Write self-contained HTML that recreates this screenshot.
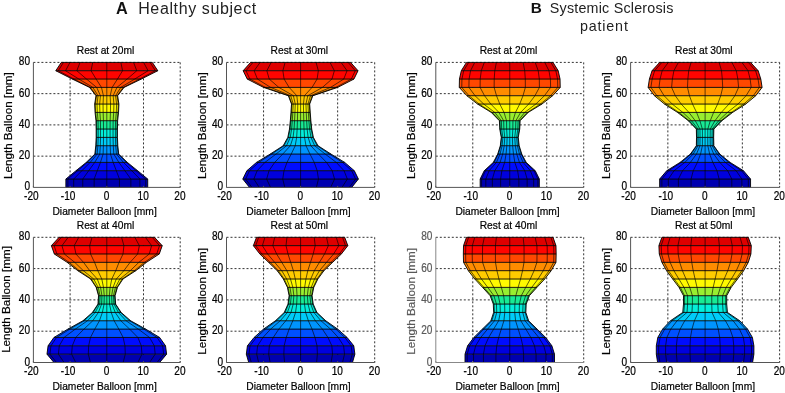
<!DOCTYPE html>
<html><head><meta charset="utf-8"><title>Balloon</title>
<style>html,body{margin:0;padding:0;background:#fff}body{width:785px;height:393px;overflow:hidden}</style></head>
<body>
<svg width="785" height="393" viewBox="0 0 785 393" style="display:block">
<rect width="785" height="393" fill="#fff"/>
<g font-family='"Liberation Sans", sans-serif'>
<line x1="70.10" y1="62.40" x2="70.10" y2="187.40" stroke="#333" stroke-width="1" stroke-dasharray="2 2"/>
<line x1="106.80" y1="62.40" x2="106.80" y2="187.40" stroke="#333" stroke-width="1" stroke-dasharray="2 2"/>
<line x1="143.50" y1="62.40" x2="143.50" y2="187.40" stroke="#333" stroke-width="1" stroke-dasharray="2 2"/>
<line x1="180.20" y1="62.40" x2="180.20" y2="187.40" stroke="#333" stroke-width="1" stroke-dasharray="2 2"/>
<line x1="33.40" y1="62.40" x2="180.20" y2="62.40" stroke="#333" stroke-width="1" stroke-dasharray="2 2"/>
<line x1="33.40" y1="93.65" x2="180.20" y2="93.65" stroke="#333" stroke-width="1" stroke-dasharray="2 2"/>
<line x1="33.40" y1="124.90" x2="180.20" y2="124.90" stroke="#333" stroke-width="1" stroke-dasharray="2 2"/>
<line x1="33.40" y1="156.15" x2="180.20" y2="156.15" stroke="#333" stroke-width="1" stroke-dasharray="2 2"/>
<polygon points="65.88,187.40 147.72,187.40 147.72,179.07 65.88,179.07" fill="#0000B0"/>
<polygon points="65.88,179.07 147.72,179.07 137.63,170.73 75.97,170.73" fill="#0000DE"/>
<polygon points="75.97,170.73 137.63,170.73 127.35,162.40 86.25,162.40" fill="#000CFF"/>
<polygon points="86.25,162.40 127.35,162.40 118.73,154.07 94.87,154.07" fill="#0050FF"/>
<polygon points="94.87,154.07 118.73,154.07 117.81,145.73 95.79,145.73" fill="#0094FF"/>
<polygon points="95.79,145.73 117.81,145.73 117.44,137.40 96.16,137.40" fill="#00CCF8"/>
<polygon points="96.16,137.40 117.44,137.40 117.44,129.07 96.16,129.07" fill="#04EEDA"/>
<polygon points="96.16,129.07 117.44,129.07 117.63,120.73 95.97,120.73" fill="#18EA94"/>
<polygon points="95.97,120.73 117.63,120.73 118.54,112.40 95.06,112.40" fill="#98EE30"/>
<polygon points="95.06,112.40 118.54,112.40 118.91,104.07 94.69,104.07" fill="#FFFA00"/>
<polygon points="94.69,104.07 118.91,104.07 117.63,95.73 95.97,95.73" fill="#FFCC00"/>
<polygon points="95.97,95.73 117.63,95.73 124.05,87.40 89.55,87.40" fill="#FF8C00"/>
<polygon points="89.55,87.40 124.05,87.40 141.30,79.07 72.30,79.07" fill="#FF4800"/>
<polygon points="72.30,79.07 141.30,79.07 157.81,70.73 55.79,70.73" fill="#FF0400"/>
<polygon points="55.79,70.73 157.81,70.73 152.31,62.40 61.29,62.40" fill="#DE0000"/>
<path d="M145.72 187.40L145.72 179.07L136.12 170.73L126.35 162.40L118.14 154.07L117.27 145.73L116.92 137.40L116.92 129.07L117.10 120.73L117.97 112.40L118.32 104.07L117.10 95.73L123.20 87.40L139.61 79.07L155.32 70.73L150.08 62.40M139.91 187.40L139.91 179.07L131.74 170.73L123.43 162.40L116.45 154.07L115.71 145.73L115.41 137.40L115.41 129.07L115.56 120.73L116.30 112.40L116.60 104.07L115.56 95.73L120.75 87.40L134.71 79.07L148.07 70.73L143.62 62.40M130.85 187.40L130.85 179.07L124.92 170.73L118.88 162.40L113.81 154.07L113.27 145.73L113.06 137.40L113.06 129.07L113.16 120.73L113.70 112.40L113.92 104.07L113.16 95.73L116.94 87.40L127.08 79.07L136.78 70.73L133.55 62.40M119.45 187.40L119.45 179.07L116.33 170.73L113.15 162.40L110.49 154.07L110.20 145.73L110.09 137.40L110.09 129.07L110.15 120.73L110.43 112.40L110.54 104.07L110.15 95.73L112.13 87.40L117.46 79.07L122.56 70.73L120.86 62.40M106.80 187.40L106.80 179.07L106.80 170.73L106.80 162.40L106.80 154.07L106.80 145.73L106.80 137.40L106.80 129.07L106.80 120.73L106.80 112.40L106.80 104.07L106.80 95.73L106.80 87.40L106.80 79.07L106.80 70.73L106.80 62.40M94.15 187.40L94.15 179.07L97.27 170.73L100.45 162.40L103.11 154.07L103.40 145.73L103.51 137.40L103.51 129.07L103.45 120.73L103.17 112.40L103.06 104.07L103.45 95.73L101.47 87.40L96.14 79.07L91.04 70.73L92.74 62.40M82.75 187.40L82.75 179.07L88.68 170.73L94.72 162.40L99.79 154.07L100.33 145.73L100.54 137.40L100.54 129.07L100.44 120.73L99.90 112.40L99.68 104.07L100.44 95.73L96.66 87.40L86.52 79.07L76.82 70.73L80.05 62.40M73.69 187.40L73.69 179.07L81.86 170.73L90.17 162.40L97.15 154.07L97.89 145.73L98.19 137.40L98.19 129.07L98.04 120.73L97.30 112.40L97.00 104.07L98.04 95.73L92.85 87.40L78.89 79.07L65.53 70.73L69.98 62.40M67.88 187.40L67.88 179.07L77.48 170.73L87.25 162.40L95.46 154.07L96.33 145.73L96.68 137.40L96.68 129.07L96.50 120.73L95.63 112.40L95.28 104.07L96.50 95.73L90.40 87.40L73.99 79.07L58.28 70.73L63.52 62.40" fill="none" stroke="#000" stroke-width="0.62" stroke-linejoin="round"/>
<path d="M65.88 187.40H147.72M65.88 179.07H147.72M75.97 170.73H137.63M86.25 162.40H127.35M94.87 154.07H118.73M95.79 145.73H117.81M96.16 137.40H117.44M96.16 129.07H117.44M95.97 120.73H117.63M95.06 112.40H118.54M94.69 104.07H118.91M95.97 95.73H117.63M89.55 87.40H124.05M72.30 79.07H141.30M55.79 70.73H157.81M61.29 62.40H152.31M147.72 187.40L147.72 179.07L137.63 170.73L127.35 162.40L118.73 154.07L117.81 145.73L117.44 137.40L117.44 129.07L117.63 120.73L118.54 112.40L118.91 104.07L117.63 95.73L124.05 87.40L141.30 79.07L157.81 70.73L152.31 62.40M65.88 187.40L65.88 179.07L75.97 170.73L86.25 162.40L94.87 154.07L95.79 145.73L96.16 137.40L96.16 129.07L95.97 120.73L95.06 112.40L94.69 104.07L95.97 95.73L89.55 87.40L72.30 79.07L55.79 70.73L61.29 62.40" fill="none" stroke="#000" stroke-width="0.9" stroke-linejoin="round"/>
<path d="M33.40 62.40V187.40H180.20" fill="none" stroke="#555" stroke-width="1"/>
<line x1="33.40" y1="187.40" x2="33.40" y2="185.90" stroke="#555" stroke-width="1"/>
<line x1="70.10" y1="187.40" x2="70.10" y2="185.90" stroke="#555" stroke-width="1"/>
<line x1="106.80" y1="187.40" x2="106.80" y2="185.90" stroke="#555" stroke-width="1"/>
<line x1="143.50" y1="187.40" x2="143.50" y2="185.90" stroke="#555" stroke-width="1"/>
<line x1="180.20" y1="187.40" x2="180.20" y2="185.90" stroke="#555" stroke-width="1"/>
<text transform="translate(31.40 200.10) scale(0.84 1)" text-anchor="middle" font-size="12.0" fill="#000" stroke="#000" stroke-width="0.22">-20</text>
<text transform="translate(68.10 200.10) scale(0.84 1)" text-anchor="middle" font-size="12.0" fill="#000" stroke="#000" stroke-width="0.22">-10</text>
<text transform="translate(106.50 200.10) scale(0.84 1)" text-anchor="middle" font-size="12.0" fill="#000" stroke="#000" stroke-width="0.22">0</text>
<text transform="translate(143.20 200.10) scale(0.84 1)" text-anchor="middle" font-size="12.0" fill="#000" stroke="#000" stroke-width="0.22">10</text>
<text transform="translate(179.90 200.10) scale(0.84 1)" text-anchor="middle" font-size="12.0" fill="#000" stroke="#000" stroke-width="0.22">20</text>
<text transform="translate(30.00 190.40) scale(0.84 1)" text-anchor="end" font-size="12.0" fill="#000" stroke="#000" stroke-width="0.22">0</text>
<text transform="translate(30.00 159.15) scale(0.84 1)" text-anchor="end" font-size="12.0" fill="#000" stroke="#000" stroke-width="0.22">20</text>
<text transform="translate(30.00 127.90) scale(0.84 1)" text-anchor="end" font-size="12.0" fill="#000" stroke="#000" stroke-width="0.22">40</text>
<text transform="translate(30.00 96.65) scale(0.84 1)" text-anchor="end" font-size="12.0" fill="#000" stroke="#000" stroke-width="0.22">60</text>
<text transform="translate(30.00 65.40) scale(0.84 1)" text-anchor="end" font-size="12.0" fill="#000" stroke="#000" stroke-width="0.22">80</text>
<text transform="translate(104.60 214.70) scale(0.87 1)" text-anchor="middle" font-size="11.8" fill="#000" stroke="#000" stroke-width="0.22">Diameter Balloon [mm]</text>
<text transform="translate(105.50 53.70) scale(0.87 1)" text-anchor="middle" font-size="11.8" fill="#000" stroke="#000" stroke-width="0.22">Rest at 20ml</text>
<text transform="translate(11.50 125.60) rotate(-90) scale(1 0.95)" text-anchor="middle" font-size="11.65" fill="#000" stroke="#000" stroke-width="0.2">Length Balloon [mm]</text>
</g>
<g font-family='"Liberation Sans", sans-serif'>
<line x1="263.55" y1="62.40" x2="263.55" y2="187.40" stroke="#333" stroke-width="1" stroke-dasharray="2 2"/>
<line x1="300.60" y1="62.40" x2="300.60" y2="187.40" stroke="#333" stroke-width="1" stroke-dasharray="2 2"/>
<line x1="337.65" y1="62.40" x2="337.65" y2="187.40" stroke="#333" stroke-width="1" stroke-dasharray="2 2"/>
<line x1="374.70" y1="62.40" x2="374.70" y2="187.40" stroke="#333" stroke-width="1" stroke-dasharray="2 2"/>
<line x1="226.50" y1="62.40" x2="374.70" y2="62.40" stroke="#333" stroke-width="1" stroke-dasharray="2 2"/>
<line x1="226.50" y1="93.65" x2="374.70" y2="93.65" stroke="#333" stroke-width="1" stroke-dasharray="2 2"/>
<line x1="226.50" y1="124.90" x2="374.70" y2="124.90" stroke="#333" stroke-width="1" stroke-dasharray="2 2"/>
<line x1="226.50" y1="156.15" x2="374.70" y2="156.15" stroke="#333" stroke-width="1" stroke-dasharray="2 2"/>
<polygon points="249.47,187.40 351.73,187.40 358.40,179.07 242.80,179.07" fill="#0000B0"/>
<polygon points="242.80,179.07 358.40,179.07 354.32,170.73 246.88,170.73" fill="#0000DE"/>
<polygon points="246.88,170.73 354.32,170.73 344.69,162.40 256.51,162.40" fill="#000CFF"/>
<polygon points="256.51,162.40 344.69,162.40 330.98,154.07 270.22,154.07" fill="#0050FF"/>
<polygon points="270.22,154.07 330.98,154.07 318.01,145.73 283.19,145.73" fill="#0094FF"/>
<polygon points="283.19,145.73 318.01,145.73 313.38,137.40 287.82,137.40" fill="#00CCF8"/>
<polygon points="287.82,137.40 313.38,137.40 311.72,129.07 289.49,129.07" fill="#04EEDA"/>
<polygon points="289.49,129.07 311.72,129.07 310.86,120.73 290.34,120.73" fill="#18EA94"/>
<polygon points="290.34,120.73 310.86,120.73 310.23,112.40 290.97,112.40" fill="#98EE30"/>
<polygon points="290.97,112.40 310.23,112.40 309.68,104.07 291.52,104.07" fill="#FFFA00"/>
<polygon points="291.52,104.07 309.68,104.07 312.83,95.73 288.37,95.73" fill="#FFCC00"/>
<polygon points="288.37,95.73 312.83,95.73 337.65,87.40 263.55,87.40" fill="#FF8C00"/>
<polygon points="263.55,87.40 337.65,87.40 353.95,79.07 247.25,79.07" fill="#FF4800"/>
<polygon points="247.25,79.07 353.95,79.07 358.03,70.73 243.17,70.73" fill="#FF0400"/>
<polygon points="243.17,70.73 358.03,70.73 350.62,62.40 250.58,62.40" fill="#DE0000"/>
<path d="M349.23 187.40L355.57 179.07L351.69 170.73L342.53 162.40L329.49 154.07L317.16 145.73L312.76 137.40L311.17 129.07L310.36 120.73L309.76 112.40L309.23 104.07L312.23 95.73L335.84 87.40L351.34 79.07L355.22 70.73L348.17 62.40M341.96 187.40L347.36 179.07L344.06 170.73L336.27 162.40L325.18 154.07L314.69 145.73L310.94 137.40L309.59 129.07L308.90 120.73L308.39 112.40L307.94 104.07L310.49 95.73L330.57 87.40L343.76 79.07L347.06 70.73L341.07 62.40M330.65 187.40L334.57 179.07L332.18 170.73L326.52 162.40L318.46 154.07L310.84 145.73L308.11 137.40L307.13 129.07L306.63 120.73L306.26 112.40L305.94 104.07L307.79 95.73L322.38 87.40L331.96 79.07L334.36 70.73L330.00 62.40M316.40 187.40L318.46 179.07L317.20 170.73L314.22 162.40L309.99 154.07L305.98 145.73L304.55 137.40L304.03 129.07L303.77 120.73L303.58 112.40L303.41 104.07L304.38 95.73L312.05 87.40L317.09 79.07L318.35 70.73L316.06 62.40M300.60 187.40L300.60 179.07L300.60 170.73L300.60 162.40L300.60 154.07L300.60 145.73L300.60 137.40L300.60 129.07L300.60 120.73L300.60 112.40L300.60 104.07L300.60 95.73L300.60 87.40L300.60 79.07L300.60 70.73L300.60 62.40M284.80 187.40L282.74 179.07L284.00 170.73L286.98 162.40L291.21 154.07L295.22 145.73L296.65 137.40L297.17 129.07L297.43 120.73L297.62 112.40L297.79 104.07L296.82 95.73L289.15 87.40L284.11 79.07L282.85 70.73L285.14 62.40M270.55 187.40L266.63 179.07L269.02 170.73L274.68 162.40L282.74 154.07L290.36 145.73L293.09 137.40L294.07 129.07L294.57 120.73L294.94 112.40L295.26 104.07L293.41 95.73L278.82 87.40L269.24 79.07L266.84 70.73L271.20 62.40M259.24 187.40L253.84 179.07L257.14 170.73L264.93 162.40L276.02 154.07L286.51 145.73L290.26 137.40L291.61 129.07L292.30 120.73L292.81 112.40L293.26 104.07L290.71 95.73L270.63 87.40L257.44 79.07L254.14 70.73L260.13 62.40M251.97 187.40L245.63 179.07L249.51 170.73L258.67 162.40L271.71 154.07L284.04 145.73L288.44 137.40L290.03 129.07L290.84 120.73L291.44 112.40L291.97 104.07L288.97 95.73L265.36 87.40L249.86 79.07L245.98 70.73L253.03 62.40" fill="none" stroke="#000" stroke-width="0.62" stroke-linejoin="round"/>
<path d="M249.47 187.40H351.73M242.80 179.07H358.40M246.88 170.73H354.32M256.51 162.40H344.69M270.22 154.07H330.98M283.19 145.73H318.01M287.82 137.40H313.38M289.49 129.07H311.72M290.34 120.73H310.86M290.97 112.40H310.23M291.52 104.07H309.68M288.37 95.73H312.83M263.55 87.40H337.65M247.25 79.07H353.95M243.17 70.73H358.03M250.58 62.40H350.62M351.73 187.40L358.40 179.07L354.32 170.73L344.69 162.40L330.98 154.07L318.01 145.73L313.38 137.40L311.72 129.07L310.86 120.73L310.23 112.40L309.68 104.07L312.83 95.73L337.65 87.40L353.95 79.07L358.03 70.73L350.62 62.40M249.47 187.40L242.80 179.07L246.88 170.73L256.51 162.40L270.22 154.07L283.19 145.73L287.82 137.40L289.49 129.07L290.34 120.73L290.97 112.40L291.52 104.07L288.37 95.73L263.55 87.40L247.25 79.07L243.17 70.73L250.58 62.40" fill="none" stroke="#000" stroke-width="0.9" stroke-linejoin="round"/>
<path d="M226.50 62.40V187.40H374.70" fill="none" stroke="#555" stroke-width="1"/>
<line x1="226.50" y1="187.40" x2="226.50" y2="185.90" stroke="#555" stroke-width="1"/>
<line x1="263.55" y1="187.40" x2="263.55" y2="185.90" stroke="#555" stroke-width="1"/>
<line x1="300.60" y1="187.40" x2="300.60" y2="185.90" stroke="#555" stroke-width="1"/>
<line x1="337.65" y1="187.40" x2="337.65" y2="185.90" stroke="#555" stroke-width="1"/>
<line x1="374.70" y1="187.40" x2="374.70" y2="185.90" stroke="#555" stroke-width="1"/>
<text transform="translate(224.50 200.10) scale(0.84 1)" text-anchor="middle" font-size="12.0" fill="#000" stroke="#000" stroke-width="0.22">-20</text>
<text transform="translate(261.55 200.10) scale(0.84 1)" text-anchor="middle" font-size="12.0" fill="#000" stroke="#000" stroke-width="0.22">-10</text>
<text transform="translate(300.30 200.10) scale(0.84 1)" text-anchor="middle" font-size="12.0" fill="#000" stroke="#000" stroke-width="0.22">0</text>
<text transform="translate(337.35 200.10) scale(0.84 1)" text-anchor="middle" font-size="12.0" fill="#000" stroke="#000" stroke-width="0.22">10</text>
<text transform="translate(374.40 200.10) scale(0.84 1)" text-anchor="middle" font-size="12.0" fill="#000" stroke="#000" stroke-width="0.22">20</text>
<text transform="translate(223.10 190.40) scale(0.84 1)" text-anchor="end" font-size="12.0" fill="#000" stroke="#000" stroke-width="0.22">0</text>
<text transform="translate(223.10 159.15) scale(0.84 1)" text-anchor="end" font-size="12.0" fill="#000" stroke="#000" stroke-width="0.22">20</text>
<text transform="translate(223.10 127.90) scale(0.84 1)" text-anchor="end" font-size="12.0" fill="#000" stroke="#000" stroke-width="0.22">40</text>
<text transform="translate(223.10 96.65) scale(0.84 1)" text-anchor="end" font-size="12.0" fill="#000" stroke="#000" stroke-width="0.22">60</text>
<text transform="translate(223.10 65.40) scale(0.84 1)" text-anchor="end" font-size="12.0" fill="#000" stroke="#000" stroke-width="0.22">80</text>
<text transform="translate(298.40 214.70) scale(0.87 1)" text-anchor="middle" font-size="11.8" fill="#000" stroke="#000" stroke-width="0.22">Diameter Balloon [mm]</text>
<text transform="translate(299.30 53.70) scale(0.87 1)" text-anchor="middle" font-size="11.8" fill="#000" stroke="#000" stroke-width="0.22">Rest at 30ml</text>
<text transform="translate(206.00 125.70) rotate(-90) scale(1 0.95)" text-anchor="middle" font-size="11.65" fill="#000" stroke="#000" stroke-width="0.2">Length Balloon [mm]</text>
</g>
<g font-family='"Liberation Sans", sans-serif'>
<line x1="70.10" y1="237.30" x2="70.10" y2="362.50" stroke="#333" stroke-width="1" stroke-dasharray="2 2"/>
<line x1="106.80" y1="237.30" x2="106.80" y2="362.50" stroke="#333" stroke-width="1" stroke-dasharray="2 2"/>
<line x1="143.50" y1="237.30" x2="143.50" y2="362.50" stroke="#333" stroke-width="1" stroke-dasharray="2 2"/>
<line x1="180.20" y1="237.30" x2="180.20" y2="362.50" stroke="#333" stroke-width="1" stroke-dasharray="2 2"/>
<line x1="33.40" y1="237.30" x2="180.20" y2="237.30" stroke="#333" stroke-width="1" stroke-dasharray="2 2"/>
<line x1="33.40" y1="268.60" x2="180.20" y2="268.60" stroke="#333" stroke-width="1" stroke-dasharray="2 2"/>
<line x1="33.40" y1="299.90" x2="180.20" y2="299.90" stroke="#333" stroke-width="1" stroke-dasharray="2 2"/>
<line x1="33.40" y1="331.20" x2="180.20" y2="331.20" stroke="#333" stroke-width="1" stroke-dasharray="2 2"/>
<polygon points="53.95,362.50 159.65,362.50 166.62,354.15 46.98,354.15" fill="#0000B0"/>
<polygon points="46.98,354.15 166.62,354.15 165.52,345.81 48.08,345.81" fill="#0000DE"/>
<polygon points="48.08,345.81 165.52,345.81 159.65,337.46 53.95,337.46" fill="#000CFF"/>
<polygon points="53.95,337.46 159.65,337.46 145.70,329.11 67.90,329.11" fill="#0050FF"/>
<polygon points="67.90,329.11 145.70,329.11 130.66,320.77 82.95,320.77" fill="#0094FF"/>
<polygon points="82.95,320.77 130.66,320.77 121.11,312.42 92.49,312.42" fill="#00CCF8"/>
<polygon points="92.49,312.42 121.11,312.42 115.61,304.07 97.99,304.07" fill="#04EEDA"/>
<polygon points="97.99,304.07 115.61,304.07 115.06,295.73 98.54,295.73" fill="#18EA94"/>
<polygon points="98.54,295.73 115.06,295.73 117.44,287.38 96.16,287.38" fill="#98EE30"/>
<polygon points="96.16,287.38 117.44,287.38 122.95,279.03 90.65,279.03" fill="#FFFA00"/>
<polygon points="90.65,279.03 122.95,279.03 135.79,270.69 77.81,270.69" fill="#FFCC00"/>
<polygon points="77.81,270.69 135.79,270.69 146.44,262.34 67.16,262.34" fill="#FF8C00"/>
<polygon points="67.16,262.34 146.44,262.34 159.28,253.99 54.32,253.99" fill="#FF4800"/>
<polygon points="54.32,253.99 159.28,253.99 162.22,245.65 51.38,245.65" fill="#FF0400"/>
<polygon points="51.38,245.65 162.22,245.65 154.51,237.30 59.09,237.30" fill="#DE0000"/>
<path d="M157.06 362.50L163.69 354.15L162.65 345.81L157.06 337.46L143.80 329.11L129.49 320.77L120.41 312.42L115.18 304.07L114.65 295.73L116.92 287.38L122.16 279.03L134.37 270.69L144.50 262.34L156.71 253.99L159.50 245.65L152.17 237.30M149.55 362.50L155.20 354.15L154.31 345.81L149.55 337.46L138.27 329.11L126.10 320.77L118.38 312.42L113.93 304.07L113.48 295.73L115.41 287.38L119.86 279.03L130.26 270.69L138.87 262.34L149.26 253.99L151.63 245.65L145.40 237.30M137.86 362.50L141.96 354.15L141.31 345.81L137.86 337.46L129.67 329.11L120.82 320.77L115.21 312.42L111.98 304.07L111.65 295.73L113.06 287.38L116.29 279.03L123.84 270.69L130.10 262.34L137.65 253.99L139.37 245.65L134.84 237.30M123.13 362.50L125.29 354.15L124.95 345.81L123.13 337.46L118.82 329.11L114.17 320.77L111.22 312.42L109.52 304.07L109.35 295.73L110.09 287.38L111.79 279.03L115.76 270.69L119.05 262.34L123.02 253.99L123.92 245.65L121.54 237.30M106.80 362.50L106.80 354.15L106.80 345.81L106.80 337.46L106.80 329.11L106.80 320.77L106.80 312.42L106.80 304.07L106.80 295.73L106.80 287.38L106.80 279.03L106.80 270.69L106.80 262.34L106.80 253.99L106.80 245.65L106.80 237.30M90.47 362.50L88.31 354.15L88.65 345.81L90.47 337.46L94.78 329.11L99.43 320.77L102.38 312.42L104.08 304.07L104.25 295.73L103.51 287.38L101.81 279.03L97.84 270.69L94.55 262.34L90.58 253.99L89.68 245.65L92.06 237.30M75.74 362.50L71.64 354.15L72.29 345.81L75.74 337.46L83.93 329.11L92.78 320.77L98.39 312.42L101.62 304.07L101.95 295.73L100.54 287.38L97.31 279.03L89.76 270.69L83.50 262.34L75.95 253.99L74.23 245.65L78.76 237.30M64.05 362.50L58.40 354.15L59.29 345.81L64.05 337.46L75.33 329.11L87.50 320.77L95.22 312.42L99.67 304.07L100.12 295.73L98.19 287.38L93.74 279.03L83.34 270.69L74.73 262.34L64.34 253.99L61.97 245.65L68.20 237.30M56.54 362.50L49.91 354.15L50.95 345.81L56.54 337.46L69.80 329.11L84.11 320.77L93.19 312.42L98.42 304.07L98.95 295.73L96.68 287.38L91.44 279.03L79.23 270.69L69.10 262.34L56.89 253.99L54.10 245.65L61.43 237.30" fill="none" stroke="#000" stroke-width="0.62" stroke-linejoin="round"/>
<path d="M53.95 362.50H159.65M46.98 354.15H166.62M48.08 345.81H165.52M53.95 337.46H159.65M67.90 329.11H145.70M82.95 320.77H130.66M92.49 312.42H121.11M97.99 304.07H115.61M98.54 295.73H115.06M96.16 287.38H117.44M90.65 279.03H122.95M77.81 270.69H135.79M67.16 262.34H146.44M54.32 253.99H159.28M51.38 245.65H162.22M59.09 237.30H154.51M159.65 362.50L166.62 354.15L165.52 345.81L159.65 337.46L145.70 329.11L130.66 320.77L121.11 312.42L115.61 304.07L115.06 295.73L117.44 287.38L122.95 279.03L135.79 270.69L146.44 262.34L159.28 253.99L162.22 245.65L154.51 237.30M53.95 362.50L46.98 354.15L48.08 345.81L53.95 337.46L67.90 329.11L82.95 320.77L92.49 312.42L97.99 304.07L98.54 295.73L96.16 287.38L90.65 279.03L77.81 270.69L67.16 262.34L54.32 253.99L51.38 245.65L59.09 237.30" fill="none" stroke="#000" stroke-width="0.9" stroke-linejoin="round"/>
<path d="M33.40 237.30V362.50H180.20" fill="none" stroke="#555" stroke-width="1"/>
<line x1="33.40" y1="362.50" x2="33.40" y2="361.00" stroke="#555" stroke-width="1"/>
<line x1="70.10" y1="362.50" x2="70.10" y2="361.00" stroke="#555" stroke-width="1"/>
<line x1="106.80" y1="362.50" x2="106.80" y2="361.00" stroke="#555" stroke-width="1"/>
<line x1="143.50" y1="362.50" x2="143.50" y2="361.00" stroke="#555" stroke-width="1"/>
<line x1="180.20" y1="362.50" x2="180.20" y2="361.00" stroke="#555" stroke-width="1"/>
<text transform="translate(31.40 375.20) scale(0.84 1)" text-anchor="middle" font-size="12.0" fill="#000" stroke="#000" stroke-width="0.22">-20</text>
<text transform="translate(68.10 375.20) scale(0.84 1)" text-anchor="middle" font-size="12.0" fill="#000" stroke="#000" stroke-width="0.22">-10</text>
<text transform="translate(106.50 375.20) scale(0.84 1)" text-anchor="middle" font-size="12.0" fill="#000" stroke="#000" stroke-width="0.22">0</text>
<text transform="translate(143.20 375.20) scale(0.84 1)" text-anchor="middle" font-size="12.0" fill="#000" stroke="#000" stroke-width="0.22">10</text>
<text transform="translate(179.90 375.20) scale(0.84 1)" text-anchor="middle" font-size="12.0" fill="#000" stroke="#000" stroke-width="0.22">20</text>
<text transform="translate(30.00 365.50) scale(0.84 1)" text-anchor="end" font-size="12.0" fill="#000" stroke="#000" stroke-width="0.22">0</text>
<text transform="translate(30.00 334.20) scale(0.84 1)" text-anchor="end" font-size="12.0" fill="#000" stroke="#000" stroke-width="0.22">20</text>
<text transform="translate(30.00 302.90) scale(0.84 1)" text-anchor="end" font-size="12.0" fill="#000" stroke="#000" stroke-width="0.22">40</text>
<text transform="translate(30.00 271.60) scale(0.84 1)" text-anchor="end" font-size="12.0" fill="#000" stroke="#000" stroke-width="0.22">60</text>
<text transform="translate(30.00 240.30) scale(0.84 1)" text-anchor="end" font-size="12.0" fill="#000" stroke="#000" stroke-width="0.22">80</text>
<text transform="translate(104.60 389.80) scale(0.87 1)" text-anchor="middle" font-size="11.8" fill="#000" stroke="#000" stroke-width="0.22">Diameter Balloon [mm]</text>
<text transform="translate(105.50 228.60) scale(0.87 1)" text-anchor="middle" font-size="11.8" fill="#000" stroke="#000" stroke-width="0.22">Rest at 40ml</text>
<text transform="translate(10.00 299.45) rotate(-90) scale(1 0.95)" text-anchor="middle" font-size="11.65" fill="#000" stroke="#000" stroke-width="0.2">Length Balloon [mm]</text>
</g>
<g font-family='"Liberation Sans", sans-serif'>
<line x1="263.55" y1="237.30" x2="263.55" y2="362.50" stroke="#333" stroke-width="1" stroke-dasharray="2 2"/>
<line x1="300.60" y1="237.30" x2="300.60" y2="362.50" stroke="#333" stroke-width="1" stroke-dasharray="2 2"/>
<line x1="337.65" y1="237.30" x2="337.65" y2="362.50" stroke="#333" stroke-width="1" stroke-dasharray="2 2"/>
<line x1="374.70" y1="237.30" x2="374.70" y2="362.50" stroke="#333" stroke-width="1" stroke-dasharray="2 2"/>
<line x1="226.50" y1="237.30" x2="374.70" y2="237.30" stroke="#333" stroke-width="1" stroke-dasharray="2 2"/>
<line x1="226.50" y1="268.60" x2="374.70" y2="268.60" stroke="#333" stroke-width="1" stroke-dasharray="2 2"/>
<line x1="226.50" y1="299.90" x2="374.70" y2="299.90" stroke="#333" stroke-width="1" stroke-dasharray="2 2"/>
<line x1="226.50" y1="331.20" x2="374.70" y2="331.20" stroke="#333" stroke-width="1" stroke-dasharray="2 2"/>
<polygon points="248.73,362.50 352.47,362.50 354.88,354.15 246.32,354.15" fill="#0000B0"/>
<polygon points="246.32,354.15 354.88,354.15 353.77,345.81 247.43,345.81" fill="#0000DE"/>
<polygon points="247.43,345.81 353.77,345.81 347.10,337.46 254.10,337.46" fill="#000CFF"/>
<polygon points="254.10,337.46 347.10,337.46 337.65,329.11 263.55,329.11" fill="#0050FF"/>
<polygon points="263.55,329.11 337.65,329.11 325.79,320.77 275.41,320.77" fill="#0094FF"/>
<polygon points="275.41,320.77 325.79,320.77 316.90,312.42 284.30,312.42" fill="#00CCF8"/>
<polygon points="284.30,312.42 316.90,312.42 313.20,304.07 288.00,304.07" fill="#04EEDA"/>
<polygon points="288.00,304.07 313.20,304.07 312.09,295.73 289.11,295.73" fill="#18EA94"/>
<polygon points="289.11,295.73 312.09,295.73 313.75,287.38 287.45,287.38" fill="#98EE30"/>
<polygon points="287.45,287.38 313.75,287.38 317.83,279.03 283.37,279.03" fill="#FFFA00"/>
<polygon points="283.37,279.03 317.83,279.03 323.94,270.69 277.26,270.69" fill="#FFCC00"/>
<polygon points="277.26,270.69 323.94,270.69 332.65,262.34 268.55,262.34" fill="#FF8C00"/>
<polygon points="268.55,262.34 332.65,262.34 341.36,253.99 259.85,253.99" fill="#FF4800"/>
<polygon points="259.85,253.99 341.36,253.99 347.84,245.65 253.36,245.65" fill="#FF0400"/>
<polygon points="253.36,245.65 347.84,245.65 344.69,237.30 256.51,237.30" fill="#DE0000"/>
<path d="M349.93 362.50L352.22 354.15L351.16 345.81L344.82 337.46L335.84 329.11L324.56 320.77L316.10 312.42L312.58 304.07L311.52 295.73L313.11 287.38L316.99 279.03L322.80 270.69L331.08 262.34L339.36 253.99L345.53 245.65L342.53 237.30M342.56 362.50L344.51 354.15L343.61 345.81L338.22 337.46L330.57 329.11L320.98 320.77L313.79 312.42L310.79 304.07L309.89 295.73L311.24 287.38L314.54 279.03L319.48 270.69L326.53 262.34L333.57 253.99L338.82 245.65L336.27 237.30M331.09 362.50L332.50 354.15L331.85 345.81L327.93 337.46L322.38 329.11L315.41 320.77L310.18 312.42L308.00 304.07L307.35 295.73L308.33 287.38L310.73 279.03L314.32 270.69L319.44 262.34L324.56 253.99L328.37 245.65L326.52 237.30M316.63 362.50L317.37 354.15L317.03 345.81L314.97 337.46L312.05 329.11L308.39 320.77L305.64 312.42L304.49 304.07L304.15 295.73L304.66 287.38L305.92 279.03L307.81 270.69L310.50 262.34L313.19 253.99L315.20 245.65L314.22 237.30M300.60 362.50L300.60 354.15L300.60 345.81L300.60 337.46L300.60 329.11L300.60 320.77L300.60 312.42L300.60 304.07L300.60 295.73L300.60 287.38L300.60 279.03L300.60 270.69L300.60 262.34L300.60 253.99L300.60 245.65L300.60 237.30M284.57 362.50L283.83 354.15L284.17 345.81L286.23 337.46L289.15 329.11L292.81 320.77L295.56 312.42L296.71 304.07L297.05 295.73L296.54 287.38L295.28 279.03L293.39 270.69L290.70 262.34L288.01 253.99L286.00 245.65L286.98 237.30M270.11 362.50L268.70 354.15L269.35 345.81L273.27 337.46L278.82 329.11L285.79 320.77L291.02 312.42L293.20 304.07L293.85 295.73L292.87 287.38L290.47 279.03L286.88 270.69L281.76 262.34L276.64 253.99L272.83 245.65L274.68 237.30M258.64 362.50L256.69 354.15L257.59 345.81L262.98 337.46L270.63 329.11L280.22 320.77L287.41 312.42L290.41 304.07L291.31 295.73L289.96 287.38L286.66 279.03L281.72 270.69L274.67 262.34L267.63 253.99L262.38 245.65L264.93 237.30M251.27 362.50L248.98 354.15L250.04 345.81L256.38 337.46L265.36 329.11L276.64 320.77L285.10 312.42L288.62 304.07L289.68 295.73L288.09 287.38L284.21 279.03L278.40 270.69L270.12 262.34L261.84 253.99L255.67 245.65L258.67 237.30" fill="none" stroke="#000" stroke-width="0.62" stroke-linejoin="round"/>
<path d="M248.73 362.50H352.47M246.32 354.15H354.88M247.43 345.81H353.77M254.10 337.46H347.10M263.55 329.11H337.65M275.41 320.77H325.79M284.30 312.42H316.90M288.00 304.07H313.20M289.11 295.73H312.09M287.45 287.38H313.75M283.37 279.03H317.83M277.26 270.69H323.94M268.55 262.34H332.65M259.85 253.99H341.36M253.36 245.65H347.84M256.51 237.30H344.69M352.47 362.50L354.88 354.15L353.77 345.81L347.10 337.46L337.65 329.11L325.79 320.77L316.90 312.42L313.20 304.07L312.09 295.73L313.75 287.38L317.83 279.03L323.94 270.69L332.65 262.34L341.36 253.99L347.84 245.65L344.69 237.30M248.73 362.50L246.32 354.15L247.43 345.81L254.10 337.46L263.55 329.11L275.41 320.77L284.30 312.42L288.00 304.07L289.11 295.73L287.45 287.38L283.37 279.03L277.26 270.69L268.55 262.34L259.85 253.99L253.36 245.65L256.51 237.30" fill="none" stroke="#000" stroke-width="0.9" stroke-linejoin="round"/>
<path d="M226.50 237.30V362.50H374.70" fill="none" stroke="#555" stroke-width="1"/>
<line x1="226.50" y1="362.50" x2="226.50" y2="361.00" stroke="#555" stroke-width="1"/>
<line x1="263.55" y1="362.50" x2="263.55" y2="361.00" stroke="#555" stroke-width="1"/>
<line x1="300.60" y1="362.50" x2="300.60" y2="361.00" stroke="#555" stroke-width="1"/>
<line x1="337.65" y1="362.50" x2="337.65" y2="361.00" stroke="#555" stroke-width="1"/>
<line x1="374.70" y1="362.50" x2="374.70" y2="361.00" stroke="#555" stroke-width="1"/>
<text transform="translate(224.50 375.20) scale(0.84 1)" text-anchor="middle" font-size="12.0" fill="#000" stroke="#000" stroke-width="0.22">-20</text>
<text transform="translate(261.55 375.20) scale(0.84 1)" text-anchor="middle" font-size="12.0" fill="#000" stroke="#000" stroke-width="0.22">-10</text>
<text transform="translate(300.30 375.20) scale(0.84 1)" text-anchor="middle" font-size="12.0" fill="#000" stroke="#000" stroke-width="0.22">0</text>
<text transform="translate(337.35 375.20) scale(0.84 1)" text-anchor="middle" font-size="12.0" fill="#000" stroke="#000" stroke-width="0.22">10</text>
<text transform="translate(374.40 375.20) scale(0.84 1)" text-anchor="middle" font-size="12.0" fill="#000" stroke="#000" stroke-width="0.22">20</text>
<text transform="translate(223.10 365.50) scale(0.84 1)" text-anchor="end" font-size="12.0" fill="#000" stroke="#000" stroke-width="0.22">0</text>
<text transform="translate(223.10 334.20) scale(0.84 1)" text-anchor="end" font-size="12.0" fill="#000" stroke="#000" stroke-width="0.22">20</text>
<text transform="translate(223.10 302.90) scale(0.84 1)" text-anchor="end" font-size="12.0" fill="#000" stroke="#000" stroke-width="0.22">40</text>
<text transform="translate(223.10 271.60) scale(0.84 1)" text-anchor="end" font-size="12.0" fill="#000" stroke="#000" stroke-width="0.22">60</text>
<text transform="translate(223.10 240.30) scale(0.84 1)" text-anchor="end" font-size="12.0" fill="#000" stroke="#000" stroke-width="0.22">80</text>
<text transform="translate(298.40 389.80) scale(0.87 1)" text-anchor="middle" font-size="11.8" fill="#000" stroke="#000" stroke-width="0.22">Diameter Balloon [mm]</text>
<text transform="translate(299.30 228.60) scale(0.87 1)" text-anchor="middle" font-size="11.8" fill="#000" stroke="#000" stroke-width="0.22">Rest at 50ml</text>
<text transform="translate(206.00 301.40) rotate(-90) scale(1 0.95)" text-anchor="middle" font-size="11.65" fill="#000" stroke="#000" stroke-width="0.2">Length Balloon [mm]</text>
</g>
<g font-family='"Liberation Sans", sans-serif'>
<line x1="472.78" y1="62.40" x2="472.78" y2="187.40" stroke="#333" stroke-width="1" stroke-dasharray="2 2"/>
<line x1="509.75" y1="62.40" x2="509.75" y2="187.40" stroke="#333" stroke-width="1" stroke-dasharray="2 2"/>
<line x1="546.73" y1="62.40" x2="546.73" y2="187.40" stroke="#333" stroke-width="1" stroke-dasharray="2 2"/>
<line x1="583.70" y1="62.40" x2="583.70" y2="187.40" stroke="#333" stroke-width="1" stroke-dasharray="2 2"/>
<line x1="435.80" y1="62.40" x2="583.70" y2="62.40" stroke="#333" stroke-width="1" stroke-dasharray="2 2"/>
<line x1="435.80" y1="93.65" x2="583.70" y2="93.65" stroke="#333" stroke-width="1" stroke-dasharray="2 2"/>
<line x1="435.80" y1="124.90" x2="583.70" y2="124.90" stroke="#333" stroke-width="1" stroke-dasharray="2 2"/>
<line x1="435.80" y1="156.15" x2="583.70" y2="156.15" stroke="#333" stroke-width="1" stroke-dasharray="2 2"/>
<polygon points="480.17,187.40 539.33,187.40 539.33,179.07 480.17,179.07" fill="#0000B0"/>
<polygon points="480.17,179.07 539.33,179.07 535.26,170.73 484.24,170.73" fill="#0000DE"/>
<polygon points="484.24,170.73 535.26,170.73 526.20,162.40 493.30,162.40" fill="#000CFF"/>
<polygon points="493.30,162.40 526.20,162.40 521.77,154.07 497.73,154.07" fill="#0050FF"/>
<polygon points="497.73,154.07 521.77,154.07 519.18,145.73 500.32,145.73" fill="#0094FF"/>
<polygon points="500.32,145.73 519.18,145.73 518.25,137.40 501.25,137.40" fill="#00CCF8"/>
<polygon points="501.25,137.40 518.25,137.40 519.73,129.07 499.77,129.07" fill="#04EEDA"/>
<polygon points="499.77,129.07 519.73,129.07 520.10,120.73 499.40,120.73" fill="#18EA94"/>
<polygon points="499.40,120.73 520.10,120.73 528.24,112.40 491.26,112.40" fill="#98EE30"/>
<polygon points="491.26,112.40 528.24,112.40 541.92,104.07 477.58,104.07" fill="#FFFA00"/>
<polygon points="477.58,104.07 541.92,104.07 552.64,95.73 466.86,95.73" fill="#FFCC00"/>
<polygon points="466.86,95.73 552.64,95.73 560.22,87.40 459.28,87.40" fill="#FF8C00"/>
<polygon points="459.28,87.40 560.22,87.40 560.04,79.07 459.46,79.07" fill="#FF4800"/>
<polygon points="459.46,79.07 560.04,79.07 558.19,70.73 461.31,70.73" fill="#FF0400"/>
<polygon points="461.31,70.73 558.19,70.73 553.01,62.40 466.49,62.40" fill="#DE0000"/>
<path d="M537.88 187.40L537.88 179.07L534.01 170.73L525.40 162.40L521.18 154.07L518.72 145.73L517.84 137.40L519.24 129.07L519.60 120.73L527.33 112.40L540.34 104.07L550.54 95.73L557.75 87.40L557.57 79.07L555.82 70.73L550.89 62.40M533.68 187.40L533.68 179.07L530.39 170.73L523.06 162.40L519.47 154.07L517.38 145.73L516.63 137.40L517.83 129.07L518.13 120.73L524.71 112.40L535.77 104.07L544.45 95.73L550.58 87.40L550.43 79.07L548.94 70.73L544.75 62.40M527.14 187.40L527.14 179.07L524.75 170.73L519.42 162.40L516.81 154.07L515.29 145.73L514.75 137.40L515.62 129.07L515.84 120.73L520.62 112.40L528.66 104.07L534.96 95.73L539.42 87.40L539.31 79.07L538.22 70.73L535.18 62.40M518.89 187.40L518.89 179.07L517.63 170.73L514.83 162.40L513.46 154.07L512.66 145.73L512.38 137.40L512.83 129.07L512.95 120.73L515.46 112.40L519.69 104.07L523.00 95.73L525.35 87.40L525.29 79.07L524.72 70.73L523.12 62.40M509.75 187.40L509.75 179.07L509.75 170.73L509.75 162.40L509.75 154.07L509.75 145.73L509.75 137.40L509.75 129.07L509.75 120.73L509.75 112.40L509.75 104.07L509.75 95.73L509.75 87.40L509.75 79.07L509.75 70.73L509.75 62.40M500.61 187.40L500.61 179.07L501.87 170.73L504.67 162.40L506.04 154.07L506.84 145.73L507.12 137.40L506.67 129.07L506.55 120.73L504.04 112.40L499.81 104.07L496.50 95.73L494.15 87.40L494.21 79.07L494.78 70.73L496.38 62.40M492.36 187.40L492.36 179.07L494.75 170.73L500.08 162.40L502.69 154.07L504.21 145.73L504.75 137.40L503.88 129.07L503.66 120.73L498.88 112.40L490.84 104.07L484.54 95.73L480.08 87.40L480.19 79.07L481.28 70.73L484.32 62.40M485.82 187.40L485.82 179.07L489.11 170.73L496.44 162.40L500.03 154.07L502.12 145.73L502.87 137.40L501.67 129.07L501.37 120.73L494.79 112.40L483.73 104.07L475.05 95.73L468.92 87.40L469.07 79.07L470.56 70.73L474.75 62.40M481.62 187.40L481.62 179.07L485.49 170.73L494.10 162.40L498.32 154.07L500.78 145.73L501.66 137.40L500.26 129.07L499.90 120.73L492.17 112.40L479.16 104.07L468.96 95.73L461.75 87.40L461.93 79.07L463.68 70.73L468.61 62.40" fill="none" stroke="#000" stroke-width="0.62" stroke-linejoin="round"/>
<path d="M480.17 187.40H539.33M480.17 179.07H539.33M484.24 170.73H535.26M493.30 162.40H526.20M497.73 154.07H521.77M500.32 145.73H519.18M501.25 137.40H518.25M499.77 129.07H519.73M499.40 120.73H520.10M491.26 112.40H528.24M477.58 104.07H541.92M466.86 95.73H552.64M459.28 87.40H560.22M459.46 79.07H560.04M461.31 70.73H558.19M466.49 62.40H553.01M539.33 187.40L539.33 179.07L535.26 170.73L526.20 162.40L521.77 154.07L519.18 145.73L518.25 137.40L519.73 129.07L520.10 120.73L528.24 112.40L541.92 104.07L552.64 95.73L560.22 87.40L560.04 79.07L558.19 70.73L553.01 62.40M480.17 187.40L480.17 179.07L484.24 170.73L493.30 162.40L497.73 154.07L500.32 145.73L501.25 137.40L499.77 129.07L499.40 120.73L491.26 112.40L477.58 104.07L466.86 95.73L459.28 87.40L459.46 79.07L461.31 70.73L466.49 62.40" fill="none" stroke="#000" stroke-width="0.9" stroke-linejoin="round"/>
<path d="M435.80 62.40V187.40H583.70" fill="none" stroke="#555" stroke-width="1"/>
<line x1="435.80" y1="187.40" x2="435.80" y2="185.90" stroke="#555" stroke-width="1"/>
<line x1="472.78" y1="187.40" x2="472.78" y2="185.90" stroke="#555" stroke-width="1"/>
<line x1="509.75" y1="187.40" x2="509.75" y2="185.90" stroke="#555" stroke-width="1"/>
<line x1="546.73" y1="187.40" x2="546.73" y2="185.90" stroke="#555" stroke-width="1"/>
<line x1="583.70" y1="187.40" x2="583.70" y2="185.90" stroke="#555" stroke-width="1"/>
<text transform="translate(433.80 200.10) scale(0.84 1)" text-anchor="middle" font-size="12.0" fill="#000" stroke="#000" stroke-width="0.22">-20</text>
<text transform="translate(470.78 200.10) scale(0.84 1)" text-anchor="middle" font-size="12.0" fill="#000" stroke="#000" stroke-width="0.22">-10</text>
<text transform="translate(509.45 200.10) scale(0.84 1)" text-anchor="middle" font-size="12.0" fill="#000" stroke="#000" stroke-width="0.22">0</text>
<text transform="translate(546.43 200.10) scale(0.84 1)" text-anchor="middle" font-size="12.0" fill="#000" stroke="#000" stroke-width="0.22">10</text>
<text transform="translate(583.40 200.10) scale(0.84 1)" text-anchor="middle" font-size="12.0" fill="#000" stroke="#000" stroke-width="0.22">20</text>
<text transform="translate(432.40 190.40) scale(0.84 1)" text-anchor="end" font-size="12.0" fill="#000" stroke="#000" stroke-width="0.22">0</text>
<text transform="translate(432.40 159.15) scale(0.84 1)" text-anchor="end" font-size="12.0" fill="#000" stroke="#000" stroke-width="0.22">20</text>
<text transform="translate(432.40 127.90) scale(0.84 1)" text-anchor="end" font-size="12.0" fill="#000" stroke="#000" stroke-width="0.22">40</text>
<text transform="translate(432.40 96.65) scale(0.84 1)" text-anchor="end" font-size="12.0" fill="#000" stroke="#000" stroke-width="0.22">60</text>
<text transform="translate(432.40 65.40) scale(0.84 1)" text-anchor="end" font-size="12.0" fill="#000" stroke="#000" stroke-width="0.22">80</text>
<text transform="translate(507.55 214.70) scale(0.87 1)" text-anchor="middle" font-size="11.8" fill="#000" stroke="#000" stroke-width="0.22">Diameter Balloon [mm]</text>
<text transform="translate(508.45 53.70) scale(0.87 1)" text-anchor="middle" font-size="11.8" fill="#000" stroke="#000" stroke-width="0.22">Rest at 20ml</text>
<text transform="translate(415.30 125.60) rotate(-90) scale(1 0.95)" text-anchor="middle" font-size="11.65" fill="#000" stroke="#000" stroke-width="0.2">Length Balloon [mm]</text>
</g>
<g font-family='"Liberation Sans", sans-serif'>
<line x1="667.85" y1="62.40" x2="667.85" y2="187.40" stroke="#333" stroke-width="1" stroke-dasharray="2 2"/>
<line x1="705.10" y1="62.40" x2="705.10" y2="187.40" stroke="#333" stroke-width="1" stroke-dasharray="2 2"/>
<line x1="742.35" y1="62.40" x2="742.35" y2="187.40" stroke="#333" stroke-width="1" stroke-dasharray="2 2"/>
<line x1="779.60" y1="62.40" x2="779.60" y2="187.40" stroke="#333" stroke-width="1" stroke-dasharray="2 2"/>
<line x1="630.60" y1="62.40" x2="779.60" y2="62.40" stroke="#333" stroke-width="1" stroke-dasharray="2 2"/>
<line x1="630.60" y1="93.65" x2="779.60" y2="93.65" stroke="#333" stroke-width="1" stroke-dasharray="2 2"/>
<line x1="630.60" y1="124.90" x2="779.60" y2="124.90" stroke="#333" stroke-width="1" stroke-dasharray="2 2"/>
<line x1="630.60" y1="156.15" x2="779.60" y2="156.15" stroke="#333" stroke-width="1" stroke-dasharray="2 2"/>
<polygon points="659.65,187.40 750.55,187.40 750.55,179.07 659.65,179.07" fill="#0000B0"/>
<polygon points="659.65,179.07 750.55,179.07 743.47,170.73 666.73,170.73" fill="#0000DE"/>
<polygon points="666.73,170.73 743.47,170.73 730.13,162.40 680.07,162.40" fill="#000CFF"/>
<polygon points="680.07,162.40 730.13,162.40 719.81,154.07 690.39,154.07" fill="#0050FF"/>
<polygon points="690.39,154.07 719.81,154.07 713.85,145.73 696.35,145.73" fill="#0094FF"/>
<polygon points="696.35,145.73 713.85,145.73 713.67,137.40 696.53,137.40" fill="#00CCF8"/>
<polygon points="696.53,137.40 713.67,137.40 713.85,129.07 696.35,129.07" fill="#04EEDA"/>
<polygon points="696.35,129.07 713.85,129.07 721.86,120.73 688.34,120.73" fill="#18EA94"/>
<polygon points="688.34,120.73 721.86,120.73 732.67,112.40 677.53,112.40" fill="#98EE30"/>
<polygon points="677.53,112.40 732.67,112.40 745.70,104.07 664.50,104.07" fill="#FFFA00"/>
<polygon points="664.50,104.07 745.70,104.07 755.76,95.73 654.44,95.73" fill="#FFCC00"/>
<polygon points="654.44,95.73 755.76,95.73 762.09,87.40 648.11,87.40" fill="#FF8C00"/>
<polygon points="648.11,87.40 762.09,87.40 760.79,79.07 649.41,79.07" fill="#FF4800"/>
<polygon points="649.41,79.07 760.79,79.07 758.18,70.73 652.02,70.73" fill="#FF0400"/>
<polygon points="652.02,70.73 758.18,70.73 750.55,62.40 659.65,62.40" fill="#DE0000"/>
<path d="M748.32 187.40L748.32 179.07L741.59 170.73L728.91 162.40L719.09 154.07L713.43 145.73L713.25 137.40L713.43 129.07L721.04 120.73L731.32 112.40L743.72 104.07L753.28 95.73L759.30 87.40L758.06 79.07L755.58 70.73L748.32 62.40M741.87 187.40L741.87 179.07L736.14 170.73L725.35 162.40L717.00 154.07L712.18 145.73L712.03 137.40L712.18 129.07L718.66 120.73L727.40 112.40L737.95 104.07L746.08 95.73L751.21 87.40L750.15 79.07L748.04 70.73L741.87 62.40M731.81 187.40L731.81 179.07L727.65 170.73L719.81 162.40L713.75 154.07L710.25 145.73L710.14 137.40L710.25 129.07L714.95 120.73L721.30 112.40L728.97 104.07L734.88 95.73L738.60 87.40L737.83 79.07L736.30 70.73L731.81 62.40M719.14 187.40L719.14 179.07L716.96 170.73L712.84 162.40L709.65 154.07L707.81 145.73L707.75 137.40L707.81 129.07L710.28 120.73L713.62 112.40L717.65 104.07L720.75 95.73L722.71 87.40L722.31 79.07L721.50 70.73L719.14 62.40M705.10 187.40L705.10 179.07L705.10 170.73L705.10 162.40L705.10 154.07L705.10 145.73L705.10 137.40L705.10 129.07L705.10 120.73L705.10 112.40L705.10 104.07L705.10 95.73L705.10 87.40L705.10 79.07L705.10 70.73L705.10 62.40M691.06 187.40L691.06 179.07L693.24 170.73L697.36 162.40L700.55 154.07L702.39 145.73L702.45 137.40L702.39 129.07L699.92 120.73L696.58 112.40L692.55 104.07L689.45 95.73L687.49 87.40L687.89 79.07L688.70 70.73L691.06 62.40M678.39 187.40L678.39 179.07L682.55 170.73L690.39 162.40L696.45 154.07L699.95 145.73L700.06 137.40L699.95 129.07L695.25 120.73L688.90 112.40L681.23 104.07L675.32 95.73L671.60 87.40L672.37 79.07L673.90 70.73L678.39 62.40M668.33 187.40L668.33 179.07L674.06 170.73L684.85 162.40L693.20 154.07L698.02 145.73L698.17 137.40L698.02 129.07L691.54 120.73L682.80 112.40L672.25 104.07L664.12 95.73L658.99 87.40L660.05 79.07L662.16 70.73L668.33 62.40M661.88 187.40L661.88 179.07L668.61 170.73L681.29 162.40L691.11 154.07L696.77 145.73L696.95 137.40L696.77 129.07L689.16 120.73L678.88 112.40L666.48 104.07L656.92 95.73L650.90 87.40L652.14 79.07L654.62 70.73L661.88 62.40" fill="none" stroke="#000" stroke-width="0.62" stroke-linejoin="round"/>
<path d="M659.65 187.40H750.55M659.65 179.07H750.55M666.73 170.73H743.47M680.07 162.40H730.13M690.39 154.07H719.81M696.35 145.73H713.85M696.53 137.40H713.67M696.35 129.07H713.85M688.34 120.73H721.86M677.53 112.40H732.67M664.50 104.07H745.70M654.44 95.73H755.76M648.11 87.40H762.09M649.41 79.07H760.79M652.02 70.73H758.18M659.65 62.40H750.55M750.55 187.40L750.55 179.07L743.47 170.73L730.13 162.40L719.81 154.07L713.85 145.73L713.67 137.40L713.85 129.07L721.86 120.73L732.67 112.40L745.70 104.07L755.76 95.73L762.09 87.40L760.79 79.07L758.18 70.73L750.55 62.40M659.65 187.40L659.65 179.07L666.73 170.73L680.07 162.40L690.39 154.07L696.35 145.73L696.53 137.40L696.35 129.07L688.34 120.73L677.53 112.40L664.50 104.07L654.44 95.73L648.11 87.40L649.41 79.07L652.02 70.73L659.65 62.40" fill="none" stroke="#000" stroke-width="0.9" stroke-linejoin="round"/>
<path d="M630.60 62.40V187.40H779.60" fill="none" stroke="#555" stroke-width="1"/>
<line x1="630.60" y1="187.40" x2="630.60" y2="185.90" stroke="#555" stroke-width="1"/>
<line x1="667.85" y1="187.40" x2="667.85" y2="185.90" stroke="#555" stroke-width="1"/>
<line x1="705.10" y1="187.40" x2="705.10" y2="185.90" stroke="#555" stroke-width="1"/>
<line x1="742.35" y1="187.40" x2="742.35" y2="185.90" stroke="#555" stroke-width="1"/>
<line x1="779.60" y1="187.40" x2="779.60" y2="185.90" stroke="#555" stroke-width="1"/>
<text transform="translate(628.60 200.10) scale(0.84 1)" text-anchor="middle" font-size="12.0" fill="#000" stroke="#000" stroke-width="0.22">-20</text>
<text transform="translate(665.85 200.10) scale(0.84 1)" text-anchor="middle" font-size="12.0" fill="#000" stroke="#000" stroke-width="0.22">-10</text>
<text transform="translate(704.80 200.10) scale(0.84 1)" text-anchor="middle" font-size="12.0" fill="#000" stroke="#000" stroke-width="0.22">0</text>
<text transform="translate(742.05 200.10) scale(0.84 1)" text-anchor="middle" font-size="12.0" fill="#000" stroke="#000" stroke-width="0.22">10</text>
<text transform="translate(779.30 200.10) scale(0.84 1)" text-anchor="middle" font-size="12.0" fill="#000" stroke="#000" stroke-width="0.22">20</text>
<text transform="translate(627.20 190.40) scale(0.84 1)" text-anchor="end" font-size="12.0" fill="#000" stroke="#000" stroke-width="0.22">0</text>
<text transform="translate(627.20 159.15) scale(0.84 1)" text-anchor="end" font-size="12.0" fill="#000" stroke="#000" stroke-width="0.22">20</text>
<text transform="translate(627.20 127.90) scale(0.84 1)" text-anchor="end" font-size="12.0" fill="#000" stroke="#000" stroke-width="0.22">40</text>
<text transform="translate(627.20 96.65) scale(0.84 1)" text-anchor="end" font-size="12.0" fill="#000" stroke="#000" stroke-width="0.22">60</text>
<text transform="translate(627.20 65.40) scale(0.84 1)" text-anchor="end" font-size="12.0" fill="#000" stroke="#000" stroke-width="0.22">80</text>
<text transform="translate(702.90 214.70) scale(0.87 1)" text-anchor="middle" font-size="11.8" fill="#000" stroke="#000" stroke-width="0.22">Diameter Balloon [mm]</text>
<text transform="translate(703.80 53.70) scale(0.87 1)" text-anchor="middle" font-size="11.8" fill="#000" stroke="#000" stroke-width="0.22">Rest at 30ml</text>
<text transform="translate(610.30 125.60) rotate(-90) scale(1 0.95)" text-anchor="middle" font-size="11.65" fill="#000" stroke="#000" stroke-width="0.2">Length Balloon [mm]</text>
</g>
<g font-family='"Liberation Sans", sans-serif'>
<line x1="472.78" y1="237.30" x2="472.78" y2="362.50" stroke="#333" stroke-width="1" stroke-dasharray="2 2"/>
<line x1="509.75" y1="237.30" x2="509.75" y2="362.50" stroke="#333" stroke-width="1" stroke-dasharray="2 2"/>
<line x1="546.73" y1="237.30" x2="546.73" y2="362.50" stroke="#333" stroke-width="1" stroke-dasharray="2 2"/>
<line x1="583.70" y1="237.30" x2="583.70" y2="362.50" stroke="#333" stroke-width="1" stroke-dasharray="2 2"/>
<line x1="435.80" y1="237.30" x2="583.70" y2="237.30" stroke="#333" stroke-width="1" stroke-dasharray="2 2"/>
<line x1="435.80" y1="268.60" x2="583.70" y2="268.60" stroke="#333" stroke-width="1" stroke-dasharray="2 2"/>
<line x1="435.80" y1="299.90" x2="583.70" y2="299.90" stroke="#333" stroke-width="1" stroke-dasharray="2 2"/>
<line x1="435.80" y1="331.20" x2="583.70" y2="331.20" stroke="#333" stroke-width="1" stroke-dasharray="2 2"/>
<polygon points="465.01,362.50 554.49,362.50 554.49,354.15 465.01,354.15" fill="#0000B0"/>
<polygon points="465.01,354.15 554.49,354.15 551.90,345.81 467.60,345.81" fill="#0000DE"/>
<polygon points="467.60,345.81 551.90,345.81 545.62,337.46 473.88,337.46" fill="#000CFF"/>
<polygon points="473.88,337.46 545.62,337.46 537.11,329.11 482.39,329.11" fill="#0050FF"/>
<polygon points="482.39,329.11 537.11,329.11 528.61,320.77 490.89,320.77" fill="#0094FF"/>
<polygon points="490.89,320.77 528.61,320.77 525.83,312.42 493.67,312.42" fill="#00CCF8"/>
<polygon points="493.67,312.42 525.83,312.42 526.20,304.07 493.30,304.07" fill="#04EEDA"/>
<polygon points="493.30,304.07 526.20,304.07 529.35,295.73 490.15,295.73" fill="#18EA94"/>
<polygon points="490.15,295.73 529.35,295.73 536.93,287.38 482.57,287.38" fill="#98EE30"/>
<polygon points="482.57,287.38 536.93,287.38 544.69,279.03 474.81,279.03" fill="#FFFA00"/>
<polygon points="474.81,279.03 544.69,279.03 551.16,270.69 468.34,270.69" fill="#FFCC00"/>
<polygon points="468.34,270.69 551.16,270.69 555.97,262.34 463.53,262.34" fill="#FF8C00"/>
<polygon points="463.53,262.34 555.97,262.34 556.15,253.99 463.35,253.99" fill="#FF4800"/>
<polygon points="463.35,253.99 556.15,253.99 555.97,245.65 463.53,245.65" fill="#FF0400"/>
<polygon points="463.53,245.65 555.97,245.65 553.01,237.30 466.49,237.30" fill="#DE0000"/>
<path d="M552.30 362.50L552.30 354.15L549.84 345.81L543.86 337.46L535.77 329.11L527.68 320.77L525.05 312.42L525.40 304.07L528.39 295.73L535.60 287.38L542.98 279.03L549.14 270.69L553.71 262.34L553.88 253.99L553.71 245.65L550.89 237.30M545.95 362.50L545.95 354.15L543.85 345.81L538.77 337.46L531.89 329.11L525.01 320.77L522.76 312.42L523.06 304.07L525.60 295.73L531.74 287.38L538.02 279.03L543.25 270.69L547.14 262.34L547.29 253.99L547.14 245.65L544.75 237.30M536.05 362.50L536.05 354.15L534.53 345.81L530.83 337.46L525.83 329.11L520.83 320.77L519.20 312.42L519.42 304.07L521.27 295.73L525.72 287.38L530.29 279.03L534.09 270.69L536.92 262.34L537.03 253.99L536.92 245.65L535.18 237.30M523.58 362.50L523.58 354.15L522.78 345.81L520.83 337.46L518.21 329.11L515.58 320.77L514.72 312.42L514.83 304.07L515.81 295.73L518.15 287.38L520.55 279.03L522.55 270.69L524.03 262.34L524.09 253.99L524.03 245.65L523.12 237.30M509.75 362.50L509.75 354.15L509.75 345.81L509.75 337.46L509.75 329.11L509.75 320.77L509.75 312.42L509.75 304.07L509.75 295.73L509.75 287.38L509.75 279.03L509.75 270.69L509.75 262.34L509.75 253.99L509.75 245.65L509.75 237.30M495.92 362.50L495.92 354.15L496.72 345.81L498.67 337.46L501.29 329.11L503.92 320.77L504.78 312.42L504.67 304.07L503.69 295.73L501.35 287.38L498.95 279.03L496.95 270.69L495.47 262.34L495.41 253.99L495.47 245.65L496.38 237.30M483.45 362.50L483.45 354.15L484.97 345.81L488.67 337.46L493.67 329.11L498.67 320.77L500.30 312.42L500.08 304.07L498.23 295.73L493.78 287.38L489.21 279.03L485.41 270.69L482.58 262.34L482.47 253.99L482.58 245.65L484.32 237.30M473.55 362.50L473.55 354.15L475.65 345.81L480.73 337.46L487.61 329.11L494.49 320.77L496.74 312.42L496.44 304.07L493.90 295.73L487.76 287.38L481.48 279.03L476.25 270.69L472.36 262.34L472.21 253.99L472.36 245.65L474.75 237.30M467.20 362.50L467.20 354.15L469.66 345.81L475.64 337.46L483.73 329.11L491.82 320.77L494.45 312.42L494.10 304.07L491.11 295.73L483.90 287.38L476.52 279.03L470.36 270.69L465.79 262.34L465.62 253.99L465.79 245.65L468.61 237.30" fill="none" stroke="#000" stroke-width="0.62" stroke-linejoin="round"/>
<path d="M465.01 362.50H554.49M465.01 354.15H554.49M467.60 345.81H551.90M473.88 337.46H545.62M482.39 329.11H537.11M490.89 320.77H528.61M493.67 312.42H525.83M493.30 304.07H526.20M490.15 295.73H529.35M482.57 287.38H536.93M474.81 279.03H544.69M468.34 270.69H551.16M463.53 262.34H555.97M463.35 253.99H556.15M463.53 245.65H555.97M466.49 237.30H553.01M554.49 362.50L554.49 354.15L551.90 345.81L545.62 337.46L537.11 329.11L528.61 320.77L525.83 312.42L526.20 304.07L529.35 295.73L536.93 287.38L544.69 279.03L551.16 270.69L555.97 262.34L556.15 253.99L555.97 245.65L553.01 237.30M465.01 362.50L465.01 354.15L467.60 345.81L473.88 337.46L482.39 329.11L490.89 320.77L493.67 312.42L493.30 304.07L490.15 295.73L482.57 287.38L474.81 279.03L468.34 270.69L463.53 262.34L463.35 253.99L463.53 245.65L466.49 237.30" fill="none" stroke="#000" stroke-width="0.9" stroke-linejoin="round"/>
<path d="M435.80 237.30V362.50H583.70" fill="none" stroke="#888" stroke-width="1"/>
<line x1="435.80" y1="362.50" x2="435.80" y2="361.00" stroke="#888" stroke-width="1"/>
<line x1="472.78" y1="362.50" x2="472.78" y2="361.00" stroke="#888" stroke-width="1"/>
<line x1="509.75" y1="362.50" x2="509.75" y2="361.00" stroke="#888" stroke-width="1"/>
<line x1="546.73" y1="362.50" x2="546.73" y2="361.00" stroke="#888" stroke-width="1"/>
<line x1="583.70" y1="362.50" x2="583.70" y2="361.00" stroke="#888" stroke-width="1"/>
<text transform="translate(433.80 375.20) scale(0.84 1)" text-anchor="middle" font-size="12.0" fill="#000" stroke="#000" stroke-width="0.22">-20</text>
<text transform="translate(470.78 375.20) scale(0.84 1)" text-anchor="middle" font-size="12.0" fill="#000" stroke="#000" stroke-width="0.22">-10</text>
<text transform="translate(509.45 375.20) scale(0.84 1)" text-anchor="middle" font-size="12.0" fill="#000" stroke="#000" stroke-width="0.22">0</text>
<text transform="translate(546.43 375.20) scale(0.84 1)" text-anchor="middle" font-size="12.0" fill="#000" stroke="#000" stroke-width="0.22">10</text>
<text transform="translate(583.40 375.20) scale(0.84 1)" text-anchor="middle" font-size="12.0" fill="#000" stroke="#000" stroke-width="0.22">20</text>
<text transform="translate(432.40 365.50) scale(0.84 1)" text-anchor="end" font-size="12.0" fill="#5a5a5a" stroke="#5a5a5a" stroke-width="0.22">0</text>
<text transform="translate(432.40 334.20) scale(0.84 1)" text-anchor="end" font-size="12.0" fill="#5a5a5a" stroke="#5a5a5a" stroke-width="0.22">20</text>
<text transform="translate(432.40 302.90) scale(0.84 1)" text-anchor="end" font-size="12.0" fill="#5a5a5a" stroke="#5a5a5a" stroke-width="0.22">40</text>
<text transform="translate(432.40 271.60) scale(0.84 1)" text-anchor="end" font-size="12.0" fill="#5a5a5a" stroke="#5a5a5a" stroke-width="0.22">60</text>
<text transform="translate(432.40 240.30) scale(0.84 1)" text-anchor="end" font-size="12.0" fill="#5a5a5a" stroke="#5a5a5a" stroke-width="0.22">80</text>
<text transform="translate(507.55 389.80) scale(0.87 1)" text-anchor="middle" font-size="11.8" fill="#000" stroke="#000" stroke-width="0.22">Diameter Balloon [mm]</text>
<text transform="translate(508.45 228.60) scale(0.87 1)" text-anchor="middle" font-size="11.8" fill="#000" stroke="#000" stroke-width="0.22">Rest at 40ml</text>
<text transform="translate(415.30 301.40) rotate(-90) scale(1 0.95)" text-anchor="middle" font-size="11.65" fill="#5a5a5a" stroke="#5a5a5a" stroke-width="0.2">Length Balloon [mm]</text>
</g>
<g font-family='"Liberation Sans", sans-serif'>
<line x1="667.85" y1="237.30" x2="667.85" y2="362.50" stroke="#333" stroke-width="1" stroke-dasharray="2 2"/>
<line x1="705.10" y1="237.30" x2="705.10" y2="362.50" stroke="#333" stroke-width="1" stroke-dasharray="2 2"/>
<line x1="742.35" y1="237.30" x2="742.35" y2="362.50" stroke="#333" stroke-width="1" stroke-dasharray="2 2"/>
<line x1="779.60" y1="237.30" x2="779.60" y2="362.50" stroke="#333" stroke-width="1" stroke-dasharray="2 2"/>
<line x1="630.60" y1="237.30" x2="779.60" y2="237.30" stroke="#333" stroke-width="1" stroke-dasharray="2 2"/>
<line x1="630.60" y1="268.60" x2="779.60" y2="268.60" stroke="#333" stroke-width="1" stroke-dasharray="2 2"/>
<line x1="630.60" y1="299.90" x2="779.60" y2="299.90" stroke="#333" stroke-width="1" stroke-dasharray="2 2"/>
<line x1="630.60" y1="331.20" x2="779.60" y2="331.20" stroke="#333" stroke-width="1" stroke-dasharray="2 2"/>
<polygon points="657.61,362.50 752.59,362.50 753.90,354.15 656.30,354.15" fill="#0000B0"/>
<polygon points="656.30,354.15 753.90,354.15 753.90,345.81 656.30,345.81" fill="#0000DE"/>
<polygon points="656.30,345.81 753.90,345.81 752.41,337.46 657.79,337.46" fill="#000CFF"/>
<polygon points="657.79,337.46 752.41,337.46 747.57,329.11 662.63,329.11" fill="#0050FF"/>
<polygon points="662.63,329.11 747.57,329.11 739.74,320.77 670.46,320.77" fill="#0094FF"/>
<polygon points="670.46,320.77 739.74,320.77 727.45,312.42 682.75,312.42" fill="#00CCF8"/>
<polygon points="682.75,312.42 727.45,312.42 726.71,304.07 683.50,304.07" fill="#04EEDA"/>
<polygon points="683.50,304.07 726.71,304.07 726.71,295.73 683.50,295.73" fill="#18EA94"/>
<polygon points="683.50,295.73 726.71,295.73 731.18,287.38 679.02,287.38" fill="#98EE30"/>
<polygon points="679.02,287.38 731.18,287.38 737.51,279.03 672.69,279.03" fill="#FFFA00"/>
<polygon points="672.69,279.03 737.51,279.03 743.65,270.69 666.55,270.69" fill="#FFCC00"/>
<polygon points="666.55,270.69 743.65,270.69 748.31,262.34 661.89,262.34" fill="#FF8C00"/>
<polygon points="661.89,262.34 748.31,262.34 750.92,253.99 659.28,253.99" fill="#FF4800"/>
<polygon points="659.28,253.99 750.92,253.99 751.29,245.65 658.91,245.65" fill="#FF0400"/>
<polygon points="658.91,245.65 751.29,245.65 748.31,237.30 661.89,237.30" fill="#DE0000"/>
<path d="M750.27 362.50L751.51 354.15L751.51 345.81L750.09 337.46L745.49 329.11L738.05 320.77L726.36 312.42L725.65 304.07L725.65 295.73L729.90 287.38L735.92 279.03L741.77 270.69L746.20 262.34L748.68 253.99L749.03 245.65L746.20 237.30M743.52 362.50L744.58 354.15L744.58 345.81L743.37 337.46L739.45 329.11L733.13 320.77L723.18 312.42L722.58 304.07L722.58 295.73L726.20 287.38L731.32 279.03L736.29 270.69L740.06 262.34L742.17 253.99L742.47 245.65L740.06 237.30M733.02 362.50L733.78 354.15L733.78 345.81L732.91 337.46L730.06 329.11L725.46 320.77L718.24 312.42L717.80 304.07L717.80 295.73L720.43 287.38L724.15 279.03L727.76 270.69L730.50 262.34L732.03 253.99L732.25 245.65L730.50 237.30M719.78 362.50L720.18 354.15L720.18 345.81L719.72 337.46L718.22 329.11L715.81 320.77L712.01 312.42L711.78 304.07L711.78 295.73L713.16 287.38L715.11 279.03L717.01 270.69L718.45 262.34L719.26 253.99L719.37 245.65L718.45 237.30M705.10 362.50L705.10 354.15L705.10 345.81L705.10 337.46L705.10 329.11L705.10 320.77L705.10 312.42L705.10 304.07L705.10 295.73L705.10 287.38L705.10 279.03L705.10 270.69L705.10 262.34L705.10 253.99L705.10 245.65L705.10 237.30M690.42 362.50L690.02 354.15L690.02 345.81L690.48 337.46L691.98 329.11L694.39 320.77L698.19 312.42L698.42 304.07L698.42 295.73L697.04 287.38L695.09 279.03L693.19 270.69L691.75 262.34L690.94 253.99L690.83 245.65L691.75 237.30M677.18 362.50L676.42 354.15L676.42 345.81L677.29 337.46L680.14 329.11L684.74 320.77L691.96 312.42L692.40 304.07L692.40 295.73L689.77 287.38L686.05 279.03L682.44 270.69L679.70 262.34L678.17 253.99L677.95 245.65L679.70 237.30M666.68 362.50L665.62 354.15L665.62 345.81L666.83 337.46L670.75 329.11L677.07 320.77L687.02 312.42L687.62 304.07L687.62 295.73L684.00 287.38L678.88 279.03L673.91 270.69L670.14 262.34L668.03 253.99L667.73 245.65L670.14 237.30M659.93 362.50L658.69 354.15L658.69 345.81L660.11 337.46L664.71 329.11L672.15 320.77L683.84 312.42L684.55 304.07L684.55 295.73L680.30 287.38L674.28 279.03L668.43 270.69L664.00 262.34L661.52 253.99L661.17 245.65L664.00 237.30" fill="none" stroke="#000" stroke-width="0.62" stroke-linejoin="round"/>
<path d="M657.61 362.50H752.59M656.30 354.15H753.90M656.30 345.81H753.90M657.79 337.46H752.41M662.63 329.11H747.57M670.46 320.77H739.74M682.75 312.42H727.45M683.50 304.07H726.71M683.50 295.73H726.71M679.02 287.38H731.18M672.69 279.03H737.51M666.55 270.69H743.65M661.89 262.34H748.31M659.28 253.99H750.92M658.91 245.65H751.29M661.89 237.30H748.31M752.59 362.50L753.90 354.15L753.90 345.81L752.41 337.46L747.57 329.11L739.74 320.77L727.45 312.42L726.71 304.07L726.71 295.73L731.18 287.38L737.51 279.03L743.65 270.69L748.31 262.34L750.92 253.99L751.29 245.65L748.31 237.30M657.61 362.50L656.30 354.15L656.30 345.81L657.79 337.46L662.63 329.11L670.46 320.77L682.75 312.42L683.50 304.07L683.50 295.73L679.02 287.38L672.69 279.03L666.55 270.69L661.89 262.34L659.28 253.99L658.91 245.65L661.89 237.30" fill="none" stroke="#000" stroke-width="0.9" stroke-linejoin="round"/>
<path d="M630.60 237.30V362.50H779.60" fill="none" stroke="#555" stroke-width="1"/>
<line x1="630.60" y1="362.50" x2="630.60" y2="361.00" stroke="#555" stroke-width="1"/>
<line x1="667.85" y1="362.50" x2="667.85" y2="361.00" stroke="#555" stroke-width="1"/>
<line x1="705.10" y1="362.50" x2="705.10" y2="361.00" stroke="#555" stroke-width="1"/>
<line x1="742.35" y1="362.50" x2="742.35" y2="361.00" stroke="#555" stroke-width="1"/>
<line x1="779.60" y1="362.50" x2="779.60" y2="361.00" stroke="#555" stroke-width="1"/>
<text transform="translate(628.60 375.20) scale(0.84 1)" text-anchor="middle" font-size="12.0" fill="#000" stroke="#000" stroke-width="0.22">-20</text>
<text transform="translate(665.85 375.20) scale(0.84 1)" text-anchor="middle" font-size="12.0" fill="#000" stroke="#000" stroke-width="0.22">-10</text>
<text transform="translate(704.80 375.20) scale(0.84 1)" text-anchor="middle" font-size="12.0" fill="#000" stroke="#000" stroke-width="0.22">0</text>
<text transform="translate(742.05 375.20) scale(0.84 1)" text-anchor="middle" font-size="12.0" fill="#000" stroke="#000" stroke-width="0.22">10</text>
<text transform="translate(779.30 375.20) scale(0.84 1)" text-anchor="middle" font-size="12.0" fill="#000" stroke="#000" stroke-width="0.22">20</text>
<text transform="translate(627.20 365.50) scale(0.84 1)" text-anchor="end" font-size="12.0" fill="#000" stroke="#000" stroke-width="0.22">0</text>
<text transform="translate(627.20 334.20) scale(0.84 1)" text-anchor="end" font-size="12.0" fill="#000" stroke="#000" stroke-width="0.22">20</text>
<text transform="translate(627.20 302.90) scale(0.84 1)" text-anchor="end" font-size="12.0" fill="#000" stroke="#000" stroke-width="0.22">40</text>
<text transform="translate(627.20 271.60) scale(0.84 1)" text-anchor="end" font-size="12.0" fill="#000" stroke="#000" stroke-width="0.22">60</text>
<text transform="translate(627.20 240.30) scale(0.84 1)" text-anchor="end" font-size="12.0" fill="#000" stroke="#000" stroke-width="0.22">80</text>
<text transform="translate(702.90 389.80) scale(0.87 1)" text-anchor="middle" font-size="11.8" fill="#000" stroke="#000" stroke-width="0.22">Diameter Balloon [mm]</text>
<text transform="translate(703.80 228.60) scale(0.87 1)" text-anchor="middle" font-size="11.8" fill="#000" stroke="#000" stroke-width="0.22">Rest at 50ml</text>
<text transform="translate(609.80 301.50) rotate(-90) scale(1 0.95)" text-anchor="middle" font-size="11.65" fill="#000" stroke="#000" stroke-width="0.2">Length Balloon [mm]</text>
</g>
<text x="115.9" y="13.9" font-size="16.3" font-weight="bold" fill="#111" font-family='"Liberation Sans", sans-serif'>A</text>
<text x="138.2" y="13.9" font-size="16" fill="#222" textLength="118" lengthAdjust="spacing" font-family='"Liberation Sans", sans-serif'>Healthy subject</text>
<text x="530.8" y="12.7" font-size="15.3" font-weight="bold" fill="#111" font-family='"Liberation Sans", sans-serif'>B</text>
<text x="549.8" y="12.7" font-size="14.3" fill="#222" textLength="123.5" lengthAdjust="spacing" font-family='"Liberation Sans", sans-serif'>Systemic Sclerosis</text>
<text x="579.9" y="30.8" font-size="14.3" fill="#222" textLength="48" lengthAdjust="spacing" font-family='"Liberation Sans", sans-serif'>patient</text>
</svg>
</body></html>
